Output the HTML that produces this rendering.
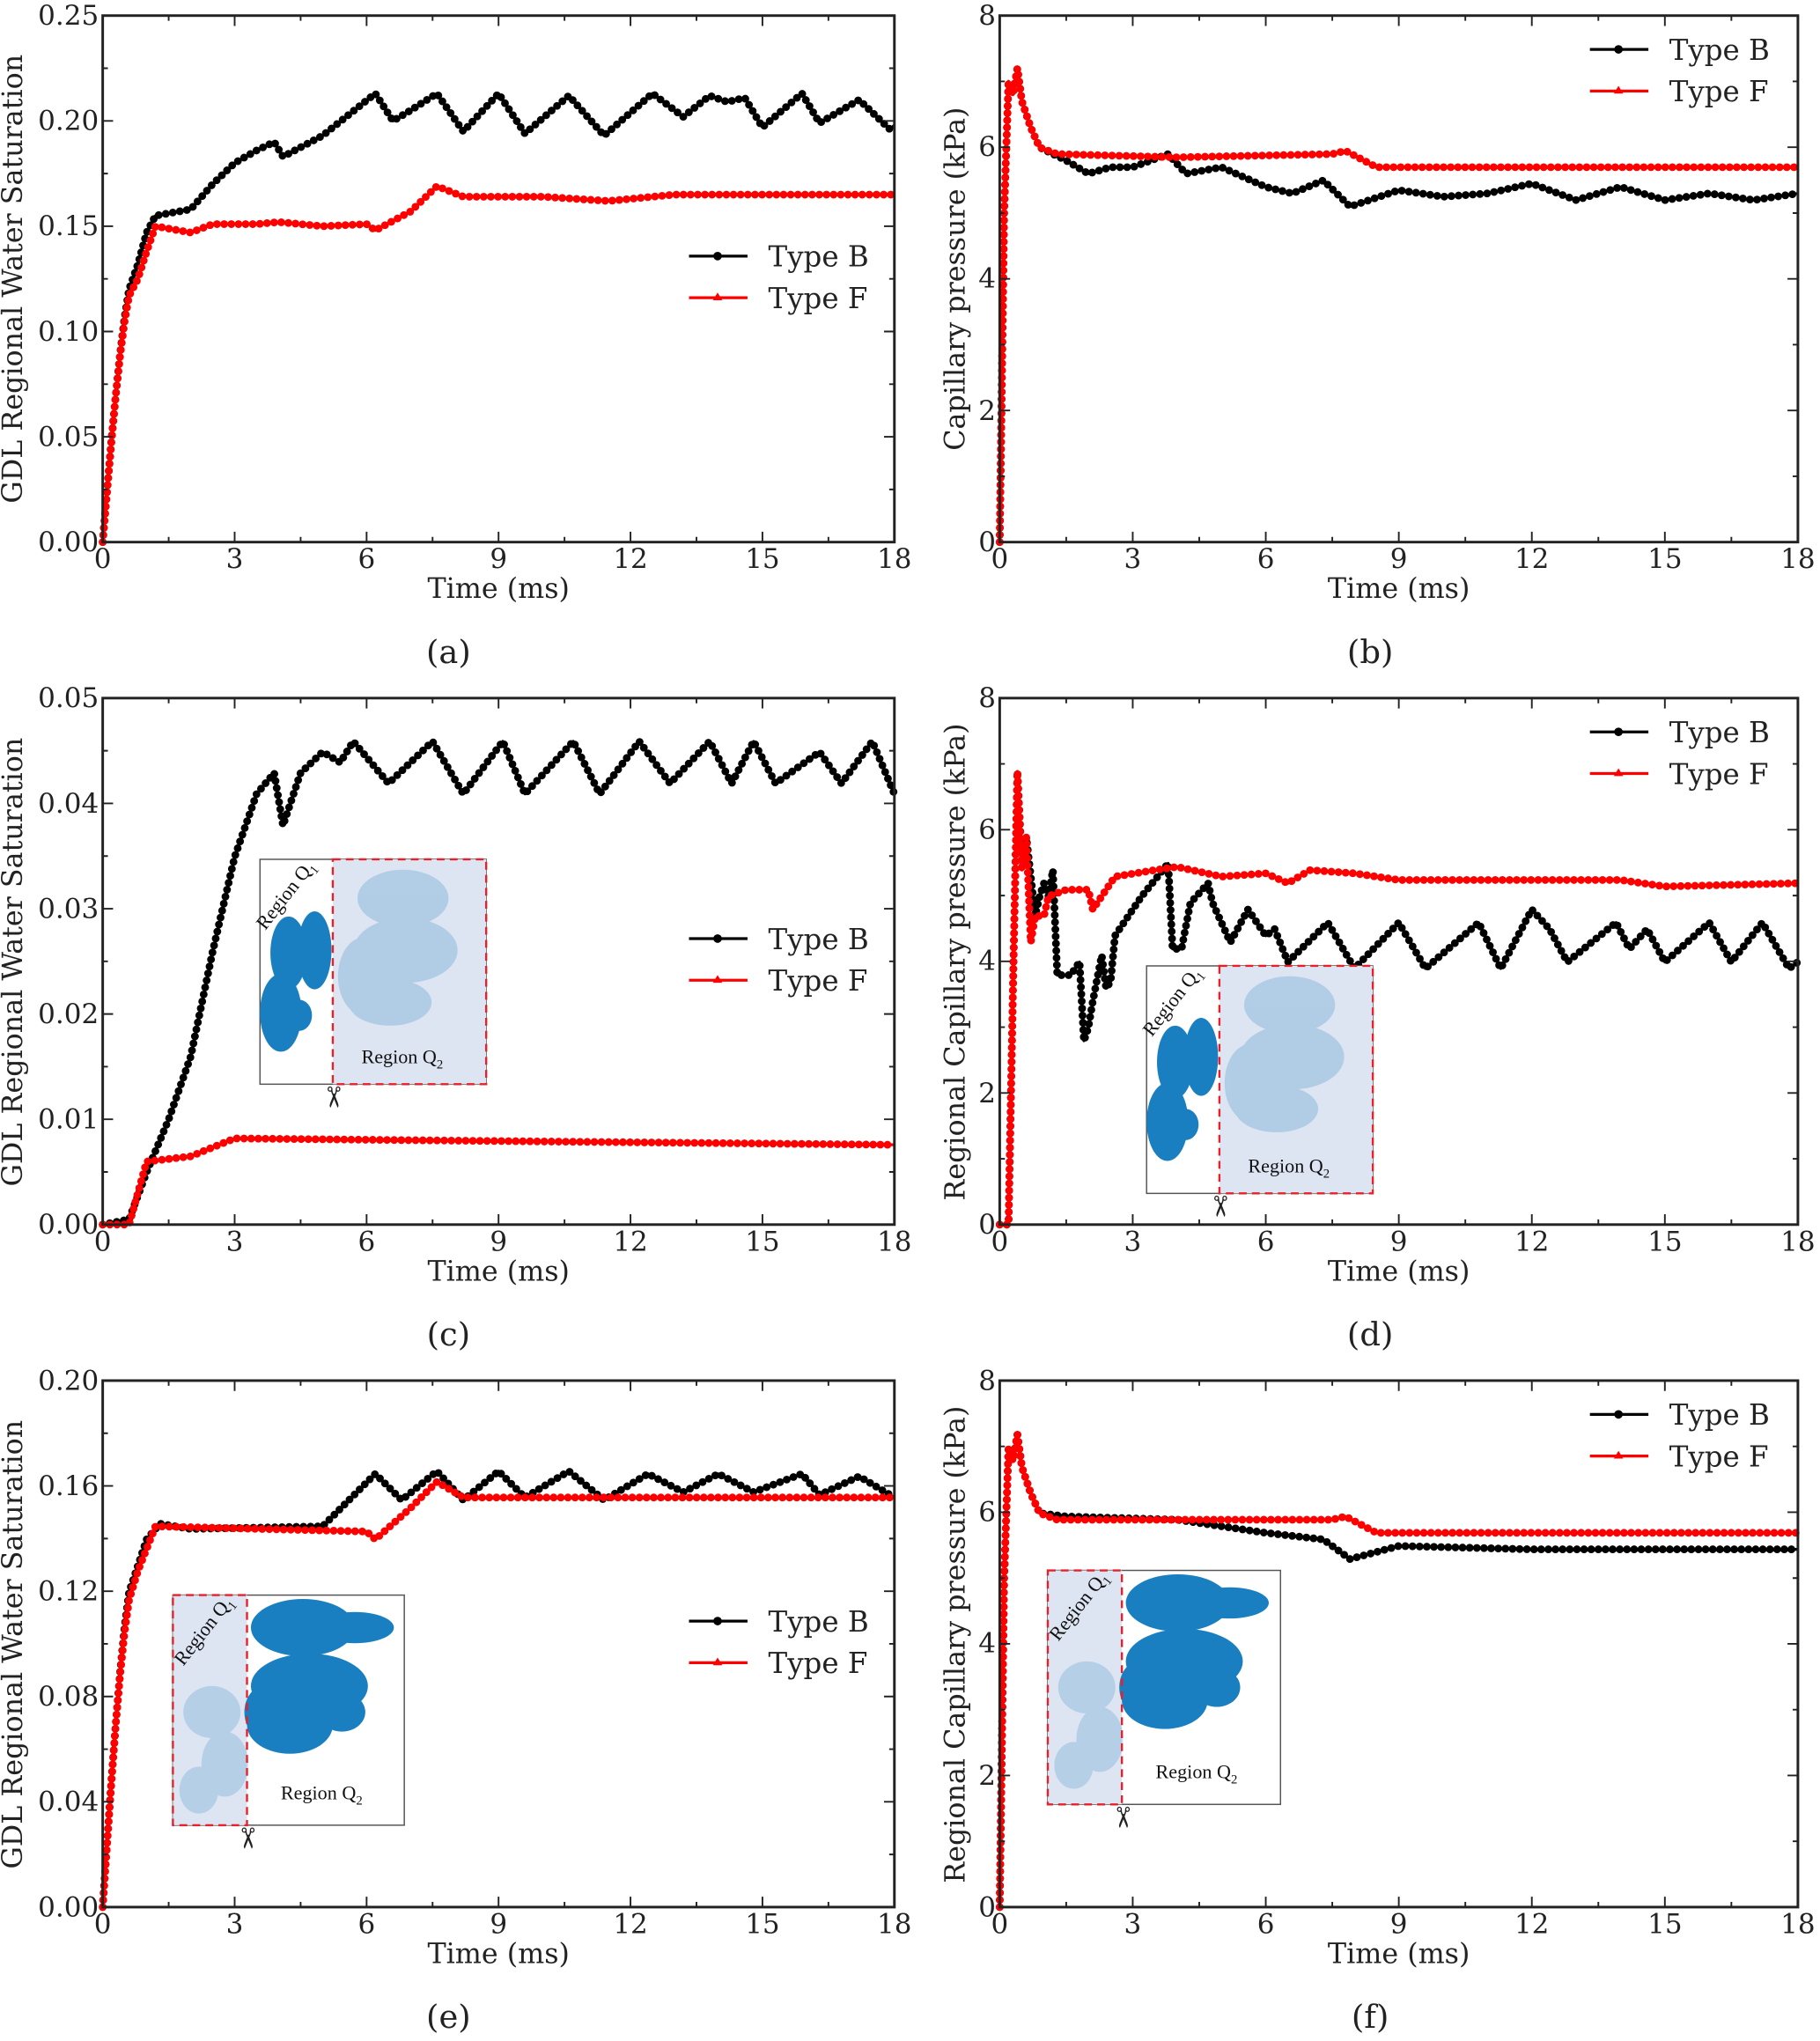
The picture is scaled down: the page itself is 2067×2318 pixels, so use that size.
<!DOCTYPE html>
<html><head><meta charset="utf-8">
<style>
html,body{margin:0;padding:0;background:#fff;}
svg{display:block;}
text{font-family:"DejaVu Serif","Liberation Serif",serif;fill:#222;}
.ln{fill:none;stroke-width:2.2;stroke-linejoin:round;}
.dt{fill:none;stroke-width:6;stroke-linecap:round;stroke-dasharray:0 5.5;}
.k{stroke:#000;} .r{stroke:#f00;}
.tk{fill:none;stroke:#222;stroke-width:1.3;}
.fr{fill:none;stroke:#222;stroke-width:2;}
.tl{font-size:21px;}
.al{font-size:21.5px;}
.sl{font-size:25px;}
.lg{font-size:22px;}
.rq{font-size:15px;fill:#111;font-family:"Liberation Serif",serif;}
</style></head>
<body>
<svg width="2067" height="2318" viewBox="0 0 1400 1570" xmlns="http://www.w3.org/2000/svg" xmlns:xlink="http://www.w3.org/1999/xlink">
<defs>
<path id="tL" d="M50.75,0v-4M101.5,0v-8M152.25,0v-4M203,0v-8M253.75,0v-4M304.5,0v-8M355.25,0v-4M406,0v-8M456.75,0v-4M507.5,0v-8M558.25,0v-4M50.75,-405v4M101.5,-405v8M152.25,-405v4M203,-405v8M253.75,-405v4M304.5,-405v8M355.25,-405v4M406,-405v8M456.75,-405v4M507.5,-405v8M558.25,-405v4M0,-40.5h4M0,-81h8M0,-121.5h4M0,-162h8M0,-202.5h4M0,-243h8M0,-283.5h4M0,-324h8M0,-364.5h4M609,-40.5h-4M609,-81h-8M609,-121.5h-4M609,-162h-8M609,-202.5h-4M609,-243h-8M609,-283.5h-4M609,-324h-8M609,-364.5h-4"/>
<path id="tR" d="M51.17,0v-4M102.33,0v-8M153.5,0v-4M204.67,0v-8M255.83,0v-4M307,0v-8M358.17,0v-4M409.33,0v-8M460.5,0v-4M511.67,0v-8M562.83,0v-4M51.17,-405v4M102.33,-405v8M153.5,-405v4M204.67,-405v8M255.83,-405v4M307,-405v8M358.17,-405v4M409.33,-405v8M460.5,-405v4M511.67,-405v8M562.83,-405v4M0,-50.6h4M0,-101.25h8M0,-151.9h4M0,-202.5h8M0,-253.1h4M0,-303.75h8M0,-354.4h4M614,-50.6h-4M614,-101.25h-8M614,-151.9h-4M614,-202.5h-8M614,-253.1h-4M614,-303.75h-8M614,-354.4h-4"/>

<path id="aB" d="M0,0L3.4,-40.5L6.8,-79.4L10.1,-113.4L13.5,-145.8L16.9,-173.3L20.3,-194.4L27.1,-213.8L33.8,-238.1L40.6,-251.1L67.7,-256L84.6,-275.4L101.5,-291.6L118.4,-301.3L131.9,-307.8L138.7,-296.5L169.2,-312.7L209.7,-345.1L223.3,-324L236.8,-332.1L257.1,-345.1L277.4,-315.9L304.5,-345.1L324.8,-314.3L358.6,-343.4L385.7,-312.7L422.9,-345.1L446.6,-327.2L466.9,-343.4L480.4,-338.6L493.9,-341.8L507.5,-319.1L537.9,-345.1L551.4,-322.4L581.9,-340.2L605.6,-317.5L609,-320.8"/>
<path id="aF" d="M0,0L3.4,-38.9L6.8,-77.8L10.1,-113.4L13.5,-144.2L16.9,-170.1L20.3,-189.5L27.1,-202.5L33.8,-223.6L40.6,-243L67.7,-238.1L84.6,-244.6L118.4,-244.6L135.3,-246.2L169.2,-243L203,-244.6L209.7,-239.8L236.8,-254.3L257.1,-273.8L277.4,-265.7L338.3,-265.7L389,-262.4L439.8,-267.3L609,-267.3"/>

<path id="bB" d="M0,0L3.4,-253L6.8,-354.4L10.2,-344.2L13.6,-364.4L17.1,-339L23.9,-318.8L30.7,-303.6L51.2,-293.5L68.2,-283.4L85.3,-288.4L102.3,-288.4L129.6,-298.5L143.3,-283.4L170.6,-288.4L204.7,-273.2L225.1,-268.2L249,-278.3L269.5,-258.1L307,-270.7L341.1,-265.7L375.2,-268.2L409.3,-275.8L443.4,-263.1L477.5,-273.2L511.7,-263.1L545.8,-268.2L579.9,-263.1L614,-268.2"/>
<path id="bF" d="M0,0L3.4,-253L6.8,-354.4L10.2,-344.2L13.6,-364.4L17.1,-339L23.9,-318.8L30.7,-303.6L44.3,-298.5L136.4,-296L255.8,-298.5L266,-301L289.9,-288.4L614,-288.4"/>

<path id="cB" d="M0,0L20.3,-4L33.8,-40.4L50.7,-80.8L67.7,-129.3L84.6,-210.1L101.5,-282.8L118.4,-331.3L131.9,-347.4L138.7,-307L152.2,-347.4L169.2,-363.6L182.7,-355.5L192.8,-371.7L219.9,-339.4L253.7,-371.7L277.4,-331.3L307.8,-371.7L324.8,-331.3L362,-371.7L382.3,-331.3L412.7,-371.7L436.4,-339.4L466.9,-371.7L483.8,-339.4L500.7,-371.7L517.6,-339.4L551.4,-363.6L568.3,-339.4L592,-371.7L609,-331.3"/>
<path id="cF" d="M0,0L20.3,0L33.8,-48.5L67.7,-52.5L101.5,-66.3L270.6,-64.6L609,-61.4"/>

<path id="dB" d="M0,0L6.8,0L10.2,-181.8L13.6,-348.5L17.1,-277.8L20.5,-298L27.3,-237.4L30.7,-252.5L34.1,-262.6L37.5,-252.5L40.9,-272.7L44.3,-191.9L54.6,-191.9L61.4,-202L64.8,-141.4L68.2,-151.5L71.6,-171.7L78.5,-207L81.9,-181.8L85.3,-186.9L88.7,-222.2L109.2,-252.5L129.6,-277.8L133,-212.1L139.9,-212.1L146.7,-247.5L160.3,-262.6L163.7,-247.5L177.4,-217.2L191,-242.4L204.7,-222.2L211.5,-227.3L221.7,-202L252.4,-232.3L272.9,-197L307,-232.3L327.5,-197L368.4,-232.3L385.4,-197L409.3,-242.4L423,-227.3L436.6,-202L474.1,-232.3L484.4,-212.1L498,-227.3L511.7,-202L545.8,-232.3L562.8,-202L586.7,-232.3L607.2,-197L614,-202"/>
<path id="dF" d="M0,0L6.8,0L10.2,-181.8L13.6,-348.5L17.1,-272.7L20.5,-298L23.9,-217.2L27.3,-237.4L34.1,-237.4L37.5,-252.5L51.2,-257.6L68.2,-257.6L71.6,-242.4L88.7,-267.7L119.4,-272.7L136.4,-275.2L170.6,-267.7L204.7,-270.2L221.7,-262.6L238.8,-272.7L272.9,-270.2L307,-265.1L409.3,-265.1L477.5,-265.1L511.7,-260.1L614,-262.6"/>

<path id="eB" d="M0,0L3.4,-50.5L6.8,-99L10.1,-141.4L13.5,-181.8L16.9,-216.1L20.3,-242.4L27.1,-262.6L33.8,-282.8L44,-294.9L67.7,-290.9L169.2,-292.9L209.7,-333.3L230,-313.1L257.1,-335.3L277.4,-313.1L304.5,-335.3L324.8,-315.1L358.6,-335.3L385.7,-313.1L419.5,-333.3L446.6,-319.2L473.6,-333.3L500.7,-319.2L537.9,-333.3L551.4,-317.1L581.9,-331.3L609,-315.1"/>
<path id="eF" d="M0,0L3.4,-48.5L6.8,-97L10.1,-141.4L13.5,-179.8L16.9,-212.1L20.3,-236.3L27.1,-258.6L40.6,-292.9L203,-288.9L209.7,-282.8L236.8,-307L257.1,-327.2L277.4,-315.1L609,-315.1"/>

<path id="fB" d="M0,0L3.4,-252.5L6.8,-353.5L10.2,-343.4L13.6,-363.6L17.1,-338.4L23.9,-318.2L30.7,-303L51.2,-300.5L136.4,-298L204.7,-287.9L249,-282.8L269.5,-267.7L307,-277.8L409.3,-275.2L614,-275.2"/>
<path id="fF" d="M0,0L3.4,-252.5L6.8,-353.5L10.2,-343.4L13.6,-363.6L17.1,-338.4L23.9,-318.2L30.7,-303L44.3,-298L255.8,-298L266,-300.5L289.9,-287.9L614,-287.9"/>

<g id="legend">
<line x1="0" y1="0" x2="45" y2="0" stroke="#000" stroke-width="2.2"/><circle cx="22" cy="0" r="3.3" fill="#000"/>
<text x="61" y="8" class="lg">Type B</text>
<line x1="0" y1="32" x2="45" y2="32" stroke="#f00" stroke-width="2.2"/><path d="M22,28l3.6,6h-7.2z" fill="#f00"/>
<text x="61" y="40" class="lg">Type F</text>
</g>
</defs>

<!-- ================= (a) ================= -->
<g transform="translate(79,417)">
<use xlink:href="#aB" class="ln k"/><use xlink:href="#aB" class="dt k"/>
<use xlink:href="#aF" class="ln r"/><use xlink:href="#aF" class="dt r"/>
<use xlink:href="#tL" class="tk"/><rect x="0" y="-405" width="609" height="405" class="fr"/>
</g>
<use xlink:href="#legend" x="530" y="197"/>
<g class="tl" text-anchor="middle"><text x="79" y="437">0</text><text x="180.5" y="437">3</text><text x="282" y="437">6</text><text x="383.5" y="437">9</text><text x="485" y="437">12</text><text x="586.5" y="437">15</text><text x="688" y="437">18</text></g>
<g class="tl" text-anchor="end"><text x="76" y="424">0.00</text><text x="76" y="343">0.05</text><text x="76" y="262">0.10</text><text x="76" y="181">0.15</text><text x="76" y="100">0.20</text><text x="76" y="19">0.25</text></g>
<text x="383.5" y="460" class="al" text-anchor="middle">Time (ms)</text>
<text transform="translate(17,214.5) rotate(-90)" class="al" text-anchor="middle">GDL Regional Water Saturation</text>
<text x="345" y="510" class="sl" text-anchor="middle">(a)</text>

<!-- ================= (b) ================= -->
<g transform="translate(769,417)">
<use xlink:href="#bB" class="ln k"/><use xlink:href="#bB" class="dt k"/>
<use xlink:href="#bF" class="ln r"/><use xlink:href="#bF" class="dt r"/>
<use xlink:href="#tR" class="tk"/><rect x="0" y="-405" width="614" height="405" class="fr"/>
</g>
<use xlink:href="#legend" x="1223" y="38"/>
<g class="tl" text-anchor="middle"><text x="769" y="437">0</text><text x="871.3" y="437">3</text><text x="973.7" y="437">6</text><text x="1076" y="437">9</text><text x="1178.3" y="437">12</text><text x="1280.7" y="437">15</text><text x="1383" y="437">18</text></g>
<g class="tl" text-anchor="end"><text x="766" y="424">0</text><text x="766" y="323">2</text><text x="766" y="221">4</text><text x="766" y="120">6</text><text x="766" y="19">8</text></g>
<text x="1076" y="460" class="al" text-anchor="middle">Time (ms)</text>
<text transform="translate(742,214.5) rotate(-90)" class="al" text-anchor="middle">Capillary pressure (kPa)</text>
<text x="1054" y="510" class="sl" text-anchor="middle">(b)</text>

<!-- ================= (c) ================= -->
<g transform="translate(200,661)">
<rect x="0" y="0" width="174" height="173" fill="#fff" stroke="#555" stroke-width="1"/>
<g fill="#1a7fc0"><ellipse cx="22" cy="72" rx="14" ry="28"/><ellipse cx="42" cy="70" rx="13" ry="30"/><ellipse cx="16" cy="118" rx="16" ry="30"/><ellipse cx="30" cy="120" rx="10" ry="12"/></g>
<rect x="56" y="0" width="118" height="173" fill="#dde4f2"/>
<g fill="#1a7fc0" opacity="0.22"><ellipse cx="110" cy="30" rx="35" ry="22"/><ellipse cx="112" cy="70" rx="40" ry="25"/><ellipse cx="100" cy="110" rx="32" ry="18"/><ellipse cx="80" cy="90" rx="20" ry="30"/></g>
<rect x="56" y="0" width="118" height="173" fill="none" stroke="#e8202a" stroke-width="1.6" stroke-dasharray="6,4"/>
<text transform="translate(4,55) rotate(-52)" class="rq">Region Q<tspan font-size="10" dy="4">1</tspan></text>
<text x="78" y="157" class="rq">Region Q<tspan font-size="10" dy="4">2</tspan></text>
<text x="56" y="190" font-size="22" text-anchor="middle" style="font-family:'DejaVu Sans'" transform="rotate(90 56 183)">✂</text>
</g>
<g transform="translate(79,942)">
<use xlink:href="#cB" class="ln k"/><use xlink:href="#cB" class="dt k"/>
<use xlink:href="#cF" class="ln r"/><use xlink:href="#cF" class="dt r"/>
<use xlink:href="#tL" class="tk"/><rect x="0" y="-405" width="609" height="405" class="fr"/>
</g>
<use xlink:href="#legend" x="530" y="722"/>
<g class="tl" text-anchor="middle"><text x="79" y="962">0</text><text x="180.5" y="962">3</text><text x="282" y="962">6</text><text x="383.5" y="962">9</text><text x="485" y="962">12</text><text x="586.5" y="962">15</text><text x="688" y="962">18</text></g>
<g class="tl" text-anchor="end"><text x="76" y="949">0.00</text><text x="76" y="868">0.01</text><text x="76" y="787">0.02</text><text x="76" y="706">0.03</text><text x="76" y="625">0.04</text><text x="76" y="544">0.05</text></g>
<text x="383.5" y="985" class="al" text-anchor="middle">Time (ms)</text>
<text transform="translate(17,740) rotate(-90)" class="al" text-anchor="middle">GDL Regional Water Saturation</text>
<text x="345" y="1035" class="sl" text-anchor="middle">(c)</text>

<!-- ================= (d) ================= -->
<g transform="translate(769,942)">
<use xlink:href="#dB" class="ln k"/><use xlink:href="#dB" class="dt k"/>
<use xlink:href="#dF" class="ln r"/><use xlink:href="#dF" class="dt r"/>
</g>
<g transform="translate(882,743)">
<rect x="0" y="0" width="174" height="175" fill="#fff" stroke="#555" stroke-width="1"/>
<g fill="#1a7fc0"><ellipse cx="22" cy="74" rx="14" ry="28"/><ellipse cx="42" cy="70" rx="13" ry="30"/><ellipse cx="16" cy="120" rx="16" ry="30"/><ellipse cx="30" cy="122" rx="10" ry="12"/></g>
<rect x="56" y="0" width="118" height="175" fill="#dde4f2"/>
<g fill="#1a7fc0" opacity="0.22"><ellipse cx="110" cy="30" rx="35" ry="22"/><ellipse cx="112" cy="70" rx="40" ry="25"/><ellipse cx="100" cy="110" rx="32" ry="18"/><ellipse cx="80" cy="90" rx="20" ry="30"/></g>
<rect x="56" y="0" width="118" height="175" fill="none" stroke="#e8202a" stroke-width="1.6" stroke-dasharray="6,4"/>
<text transform="translate(4,55) rotate(-52)" class="rq">Region Q<tspan font-size="10" dy="4">1</tspan></text>
<text x="78" y="159" class="rq">Region Q<tspan font-size="10" dy="4">2</tspan></text>
<text x="56" y="192" font-size="22" text-anchor="middle" style="font-family:'DejaVu Sans'" transform="rotate(90 56 185)">✂</text>
</g>
<g transform="translate(769,942)">
<use xlink:href="#tR" class="tk"/><rect x="0" y="-405" width="614" height="405" class="fr"/>
</g>
<use xlink:href="#legend" x="1223" y="563"/>
<g class="tl" text-anchor="middle"><text x="769" y="962">0</text><text x="871.3" y="962">3</text><text x="973.7" y="962">6</text><text x="1076" y="962">9</text><text x="1178.3" y="962">12</text><text x="1280.7" y="962">15</text><text x="1383" y="962">18</text></g>
<g class="tl" text-anchor="end"><text x="766" y="949">0</text><text x="766" y="848">2</text><text x="766" y="746">4</text><text x="766" y="645">6</text><text x="766" y="544">8</text></g>
<text x="1076" y="985" class="al" text-anchor="middle">Time (ms)</text>
<text transform="translate(742,740) rotate(-90)" class="al" text-anchor="middle">Regional Capillary pressure (kPa)</text>
<text x="1054" y="1035" class="sl" text-anchor="middle">(d)</text>

<!-- ================= (e) ================= -->
<g transform="translate(133,1227)">
<rect x="0" y="0" width="178" height="177" fill="#fff" stroke="#555" stroke-width="1"/>
<rect x="0" y="0" width="57" height="177" fill="#dde4f2"/>
<g fill="#1a7fc0" opacity="0.2"><ellipse cx="30" cy="90" rx="22" ry="20"/><ellipse cx="40" cy="130" rx="18" ry="25"/><ellipse cx="20" cy="150" rx="15" ry="18"/></g>
<g fill="#1a7fc0"><ellipse cx="100" cy="25" rx="40" ry="22"/><ellipse cx="140" cy="25" rx="30" ry="12"/><ellipse cx="105" cy="70" rx="45" ry="25"/><ellipse cx="90" cy="100" rx="33" ry="22"/><ellipse cx="70" cy="90" rx="15" ry="20"/><ellipse cx="130" cy="90" rx="18" ry="15"/></g>
<rect x="0" y="0" width="57" height="177" fill="none" stroke="#e8202a" stroke-width="1.6" stroke-dasharray="6,4"/>
<text transform="translate(8,55) rotate(-52)" class="rq">Region Q<tspan font-size="10" dy="4">1</tspan></text>
<text x="83" y="157" class="rq">Region Q<tspan font-size="10" dy="4">2</tspan></text>
<text x="57" y="194" font-size="22" text-anchor="middle" style="font-family:'DejaVu Sans'" transform="rotate(90 57 187)">✂</text>
</g>
<g transform="translate(79,1467)">
<use xlink:href="#eB" class="ln k"/><use xlink:href="#eB" class="dt k"/>
<use xlink:href="#eF" class="ln r"/><use xlink:href="#eF" class="dt r"/>
<use xlink:href="#tL" class="tk"/><rect x="0" y="-405" width="609" height="405" class="fr"/>
</g>
<use xlink:href="#legend" x="530" y="1247"/>
<g class="tl" text-anchor="middle"><text x="79" y="1487">0</text><text x="180.5" y="1487">3</text><text x="282" y="1487">6</text><text x="383.5" y="1487">9</text><text x="485" y="1487">12</text><text x="586.5" y="1487">15</text><text x="688" y="1487">18</text></g>
<g class="tl" text-anchor="end"><text x="76" y="1474">0.00</text><text x="76" y="1393">0.04</text><text x="76" y="1312">0.08</text><text x="76" y="1231">0.12</text><text x="76" y="1150">0.16</text><text x="76" y="1069">0.20</text></g>
<text x="383.5" y="1510" class="al" text-anchor="middle">Time (ms)</text>
<text transform="translate(17,1265) rotate(-90)" class="al" text-anchor="middle">GDL Regional Water Saturation</text>
<text x="345" y="1560" class="sl" text-anchor="middle">(e)</text>

<!-- ================= (f) ================= -->
<g transform="translate(806,1208)">
<rect x="0" y="0" width="179" height="180" fill="#fff" stroke="#555" stroke-width="1"/>
<rect x="0" y="0" width="57" height="180" fill="#dde4f2"/>
<g fill="#1a7fc0" opacity="0.2"><ellipse cx="30" cy="90" rx="22" ry="20"/><ellipse cx="40" cy="130" rx="18" ry="25"/><ellipse cx="20" cy="150" rx="15" ry="18"/></g>
<g fill="#1a7fc0"><ellipse cx="100" cy="25" rx="40" ry="22"/><ellipse cx="140" cy="25" rx="30" ry="12"/><ellipse cx="105" cy="70" rx="45" ry="25"/><ellipse cx="90" cy="100" rx="33" ry="22"/><ellipse cx="70" cy="90" rx="15" ry="20"/><ellipse cx="130" cy="90" rx="18" ry="15"/></g>
<rect x="0" y="0" width="57" height="180" fill="none" stroke="#e8202a" stroke-width="1.6" stroke-dasharray="6,4"/>
<text transform="translate(8,55) rotate(-52)" class="rq">Region Q<tspan font-size="10" dy="4">1</tspan></text>
<text x="83" y="160" class="rq">Region Q<tspan font-size="10" dy="4">2</tspan></text>
<text x="57" y="197" font-size="22" text-anchor="middle" style="font-family:'DejaVu Sans'" transform="rotate(90 57 190)">✂</text>
</g>
<g transform="translate(769,1467)">
<use xlink:href="#fB" class="ln k"/><use xlink:href="#fB" class="dt k"/>
<use xlink:href="#fF" class="ln r"/><use xlink:href="#fF" class="dt r"/>
<use xlink:href="#tR" class="tk"/><rect x="0" y="-405" width="614" height="405" class="fr"/>
</g>
<use xlink:href="#legend" x="1223" y="1088"/>
<g class="tl" text-anchor="middle"><text x="769" y="1487">0</text><text x="871.3" y="1487">3</text><text x="973.7" y="1487">6</text><text x="1076" y="1487">9</text><text x="1178.3" y="1487">12</text><text x="1280.7" y="1487">15</text><text x="1383" y="1487">18</text></g>
<g class="tl" text-anchor="end"><text x="766" y="1474">0</text><text x="766" y="1373">2</text><text x="766" y="1271">4</text><text x="766" y="1170">6</text><text x="766" y="1069">8</text></g>
<text x="1076" y="1510" class="al" text-anchor="middle">Time (ms)</text>
<text transform="translate(742,1265) rotate(-90)" class="al" text-anchor="middle">Regional Capillary pressure (kPa)</text>
<text x="1054" y="1560" class="sl" text-anchor="middle">(f)</text>
</svg>
</body></html>
